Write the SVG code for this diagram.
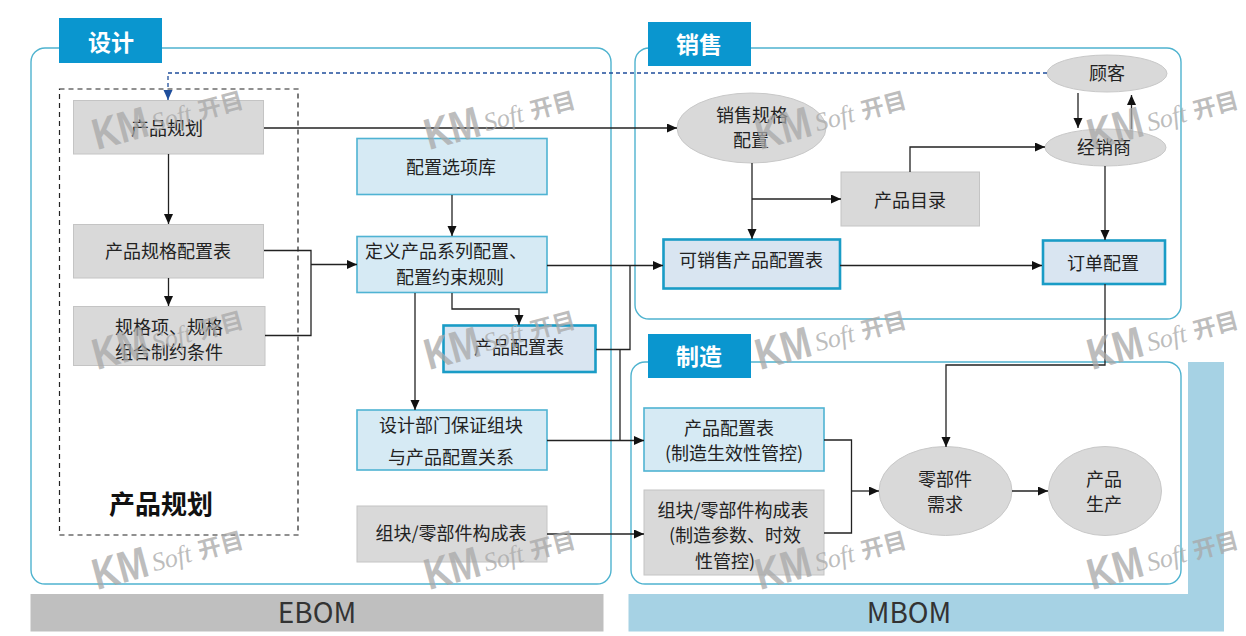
<svg xmlns="http://www.w3.org/2000/svg" width="1246" height="636" viewBox="0 0 1246 636">
<style>
text{font-family:"Microsoft YaHei","Noto Sans CJK SC","Noto Sans",sans-serif;font-size:18px;fill:#222;text-anchor:middle}
.panel{fill:#fff;stroke:#4fb3cf;stroke-width:1.4}
.tab{fill:#0a96cf}
.tabt{fill:#fff;font-size:23px;font-weight:700}
.gr{fill:#d9d9d9;stroke:#c4c4c4;stroke-width:1}
.bl{fill:#d6eaf4;stroke:#4fb3d3;stroke-width:1.6}
.bd{fill:#d9e5f1;stroke:#1a9cc6;stroke-width:2.6}
.el{fill:#d9d9d9;stroke:#c8c8c8;stroke-width:1}
.c{fill:none;stroke:#222;stroke-width:1.3}
.km{fill:#a8a8a8;fill-opacity:.75;font-family:"Liberation Sans",sans-serif;font-size:44px;font-weight:700;text-anchor:start}
.sf{fill:#a8a8a8;fill-opacity:.75;font-family:"Liberation Serif",serif;font-size:26px;font-style:italic;text-anchor:start}
.kc{fill:#a8a8a8;fill-opacity:.75;font-size:23px;font-weight:700;text-anchor:start}
.bar{font-size:28px;fill:#333}
</style>
<defs>
<marker id="a" markerWidth="11" markerHeight="10" refX="10" refY="4.500" orient="auto" markerUnits="userSpaceOnUse"><path d="M0 0L10 4.500L0 9z" fill="#111"/></marker>
<marker id="b" markerWidth="11" markerHeight="10" refX="10" refY="4.500" orient="auto" markerUnits="userSpaceOnUse"><path d="M0 0L10 4.500L0 9z" fill="#1f4e9c"/></marker>
<g id="wm" transform="rotate(-15)"><text class="km" x="0" y="0" textLength="56" lengthAdjust="spacingAndGlyphs">KM</text><text class="sf" x="60" y="-3">Soft</text><text class="kc" x="108" y="-3">开目</text></g>
</defs>
<rect width="1246" height="636" fill="#fff"/>
<rect x="30.500" y="594" width="573" height="37.500" fill="#bfbfbf"/>
<path d="M628.500 594H1188V362H1224V631.500H628.500z" fill="#a6d2e4"/>
<text class="bar" x="317" y="623">EBOM</text>
<text class="bar" x="909" y="623">MBOM</text>
<g id="design-panel"><rect class="panel" x="31" y="48" width="580" height="536" rx="14"/><rect class="tab" x="59" y="18" width="103" height="45"/><text class="tabt" x="111" y="51">设计</text></g>
<g id="sales-panel"><rect class="panel" x="635" y="48" width="546" height="271" rx="14"/><rect class="tab" x="648" y="22" width="103" height="44"/><text class="tabt" x="699" y="53">销售</text></g>
<g id="mfg-panel"><rect class="panel" x="631" y="362" width="550" height="222" rx="14"/><rect class="tab" x="648" y="334" width="103" height="44"/><text class="tabt" x="699" y="365">制造</text></g>
<g id="planning-frame"><rect x="59.500" y="89" width="238.500" height="446" fill="none" stroke="#222" stroke-width="1.2" stroke-dasharray="5 4"/><text x="161" y="514" style="font-size:26px;font-weight:700;fill:#111">产品规划</text></g>
<g id="n1"><rect class="gr" x="73.500" y="100.500" width="190" height="53.500"/><text x="167" y="135">产品规划</text></g>
<g id="n2"><rect class="gr" x="73.500" y="224.500" width="190" height="53.500"/><text x="168" y="258">产品规格配置表</text></g>
<g id="n3"><rect class="gr" x="73.500" y="306.500" width="191.500" height="59"/><text x="169" y="334">规格项、规格</text><text x="169" y="359">组合制约条件</text></g>
<g id="n4"><rect class="bl" x="357" y="138.500" width="190" height="56"/><text x="451" y="174">配置选项库</text></g>
<g id="n5"><rect class="bl" x="357" y="236.500" width="190" height="56"/><text x="446" y="258">定义产品系列配置、</text><text x="450" y="284">配置约束规则</text></g>
<g id="n6"><rect class="bd" x="443.500" y="325.500" width="152" height="46.500"/><text x="519" y="354">产品配置表</text></g>
<g id="n7"><rect class="bl" x="357" y="410" width="190" height="60"/><text x="451" y="432">设计部门保证组块</text><text x="451" y="464">与产品配置关系</text></g>
<g id="n8"><rect class="gr" x="357" y="506" width="190" height="56"/><text x="451" y="540">组块/零部件构成表</text></g>
<g id="n9"><ellipse class="el" cx="751.500" cy="128" rx="74.500" ry="35"/><text x="752" y="122">销售规格</text><text x="751" y="147">配置</text></g>
<g id="n10"><rect class="gr" x="841" y="172" width="138.500" height="54"/><text x="910" y="207">产品目录</text></g>
<g id="n11"><rect class="bd" x="663.500" y="239.500" width="176.500" height="49"/><text x="751" y="267">可销售产品配置表</text></g>
<g id="n12"><ellipse class="el" cx="1107" cy="73.500" rx="60" ry="18.500"/><text x="1107" y="80">顾客</text></g>
<g id="n13"><ellipse class="el" cx="1105.500" cy="147.500" rx="60.500" ry="18.500"/><text x="1104" y="154">经销商</text></g>
<g id="n14"><rect class="bd" x="1043" y="240.500" width="122" height="43.500"/><text x="1103" y="270">订单配置</text></g>
<g id="n15"><rect class="bl" x="644" y="408" width="180" height="63"/><text x="729" y="435">产品配置表</text><text x="734" y="460">(制造生效性管控)</text></g>
<g id="n16"><rect class="gr" x="644" y="490" width="180" height="85"/><text x="733" y="517">组块/零部件构成表</text><text x="735" y="542">(制造参数、时效</text><text x="725" y="568">性管控)</text></g>
<g id="n17"><ellipse class="el" cx="945.500" cy="491" rx="66.500" ry="44.500"/><text x="945" y="486">零部件</text><text x="945" y="511">需求</text></g>
<g id="n18"><ellipse class="el" cx="1105" cy="491" rx="56.500" ry="44.500"/><text x="1104" y="486">产品</text><text x="1104" y="511">生产</text></g>
<g id="connectors">
<path class="c" d="M1047 73H168V100" stroke-dasharray="4 3" style="stroke:#1f4e9c" marker-end="url(#b)"/>
<path class="c" d="M264 128H677" marker-end="url(#a)"/>
<path class="c" d="M168.500 154V224" marker-end="url(#a)"/>
<path class="c" d="M168.500 278V306" marker-end="url(#a)"/>
<path class="c" d="M264 250.500H311V335.500H265"/>
<path class="c" d="M311 264.500H357" marker-end="url(#a)"/>
<path class="c" d="M452 195V236" marker-end="url(#a)"/>
<path class="c" d="M547 265.500H663" marker-end="url(#a)"/>
<path class="c" d="M415 293V410" marker-end="url(#a)"/>
<path class="c" d="M452 293V309H519V325" marker-end="url(#a)"/>
<path class="c" d="M596 349.500H630V265.500"/>
<path class="c" d="M620 349.500V440"/>
<path class="c" d="M547 440.500H644" marker-end="url(#a)"/>
<path class="c" d="M547 534H644" marker-end="url(#a)"/>
<path class="c" d="M752 163V239" marker-end="url(#a)"/>
<path class="c" d="M752 199H841" marker-end="url(#a)"/>
<path class="c" d="M910 172V147H1045" marker-end="url(#a)"/>
<path class="c" d="M1078 93V128" marker-end="url(#a)"/>
<path class="c" d="M1131.500 129V95" marker-end="url(#a)"/>
<path class="c" d="M1105 166V240" marker-end="url(#a)"/>
<path class="c" d="M840 265.500H1042" marker-end="url(#a)"/>
<path class="c" d="M1105 284V365H946V447" marker-end="url(#a)"/>
<path class="c" d="M824 440H851.500V533H824"/>
<path class="c" d="M851.500 491H879" marker-end="url(#a)"/>
<path class="c" d="M1012 491H1048" marker-end="url(#a)"/>
</g>
<g id="watermarks">
<use href="#wm" x="0" y="0" transform="translate(97 150)"/><use href="#wm" transform="translate(429 150)"/><use href="#wm" transform="translate(760 150)"/><use href="#wm" transform="translate(1092 150)"/>
<use href="#wm" transform="translate(97 370)"/><use href="#wm" transform="translate(429 370)"/><use href="#wm" transform="translate(760 370)"/><use href="#wm" transform="translate(1092 370)"/>
<use href="#wm" transform="translate(97 590)"/><use href="#wm" transform="translate(429 590)"/><use href="#wm" transform="translate(760 590)"/><use href="#wm" transform="translate(1092 590)"/>
</g>
</svg>
